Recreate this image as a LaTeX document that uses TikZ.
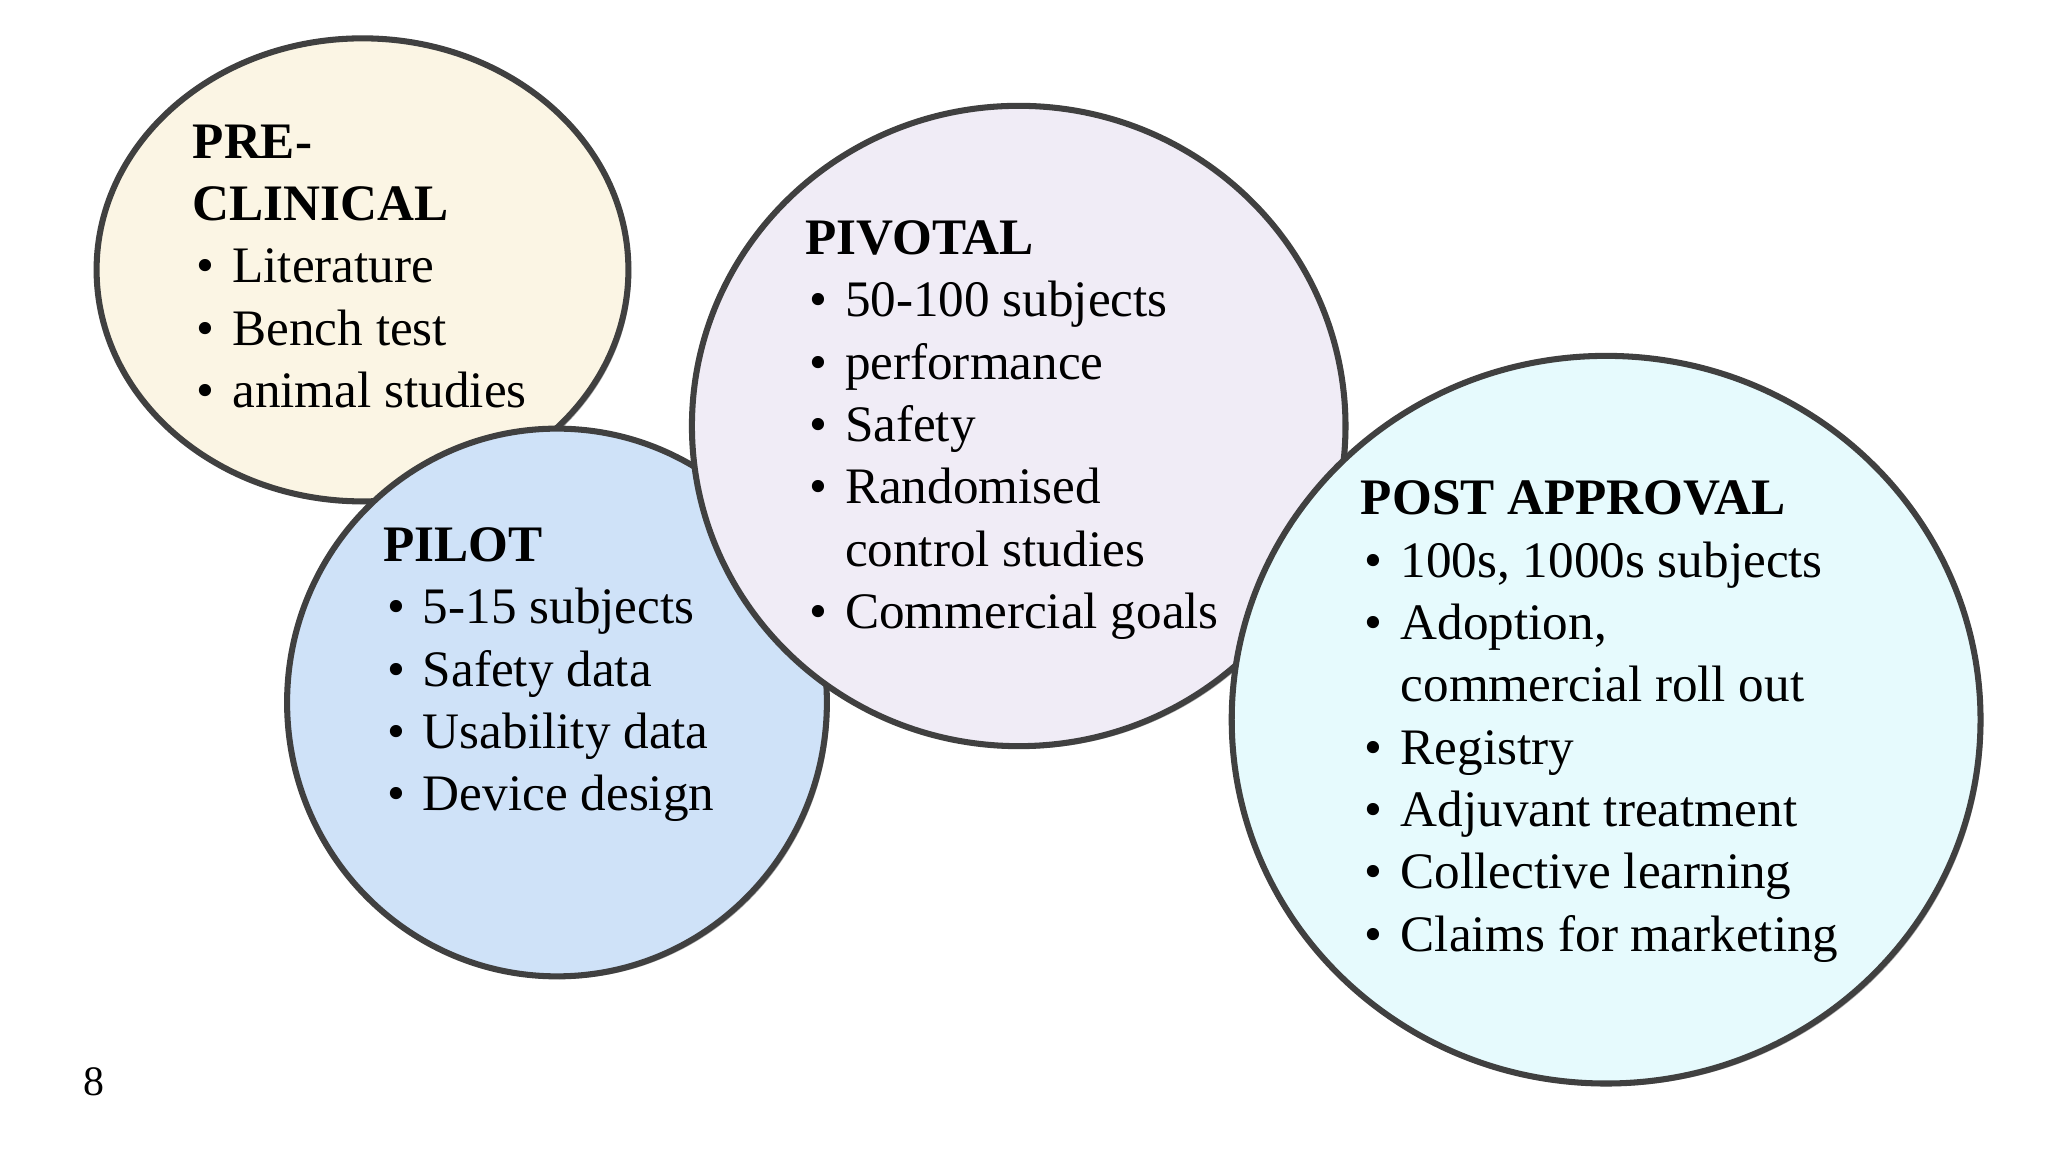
\documentclass[tikz,border=0pt]{standalone}
\usepackage{fontspec}
\setmainfont{Liberation Serif}
\begin{document}
\newcommand{\bi}{\makebox[0.3cm][l]{\hspace{0.03cm}\textbullet}}
\newcommand{\ci}{\makebox[0.3cm][l]{}}
\begin{tikzpicture}[x=0.01cm,y=-0.01cm,
  bub/.style={draw=black!75,line width=1.3pt},
  shad/.style={fill=black!35,draw=none},
  txt/.style={anchor=base west,inner sep=0pt,font=\fontsize{11pt}{13.4pt}\selectfont,align=left}]
\useasboundingbox (0,0) rectangle (1548,871);
\fill[white] (0,0) rectangle (1548,871);
\definecolor{cA}{HTML}{FBF5E4}
\definecolor{cB}{HTML}{CFE2F8}
\definecolor{cC}{HTML}{F0ECF6}
\definecolor{cD}{HTML}{E6FAFD}
\fill[shad] (276,206) ellipse [x radius=201,y radius=175];
\draw[bub,fill=cA] (274,204) ellipse [x radius=201,y radius=175];
\fill[shad] (423,533) ellipse [x radius=204,y radius=207];
\draw[bub,fill=cB] (421,531) ellipse [x radius=204,y radius=207];
\fill[shad] (772,324) ellipse [x radius=247,y radius=242];
\draw[bub,fill=cC] (770,322) ellipse [x radius=247,y radius=242];
\fill[shad] (1216,546) ellipse [x radius=283,y radius=275];
\draw[bub,fill=cD] (1214,544) ellipse [x radius=283,y radius=275];
\node[txt] (t1) at (145,308) {\textbf{PRE-}\\\textbf{CLINICAL}\\\bi Literature\\\bi Bench test\\\bi animal studies};
\node[txt] (t2) at (289,613) {\textbf{PILOT}\\\bi 5-15 subjects\\\bi Safety data\\\bi Usability data\\\bi Device design};
\node[txt] (t3) at (608,475) {\textbf{PIVOTAL}\\\bi 50-100 subjects\\\bi performance\\\bi Safety\\\bi Randomised\\\ci control studies\\\bi Commercial goals};
\node[txt] (t4) at (1028,719) {\textbf{POST APPROVAL}\\\bi 100s, 1000s subjects\\\bi Adoption,\\\ci commercial roll out\\\bi Registry\\\bi Adjuvant treatment\\\bi Collective learning\\\bi Claims for marketing};
\node[anchor=base,inner sep=0pt,font=\fontsize{9pt}{10pt}\selectfont] (pg) at (71,828) {8};
\end{tikzpicture}
\end{document}
